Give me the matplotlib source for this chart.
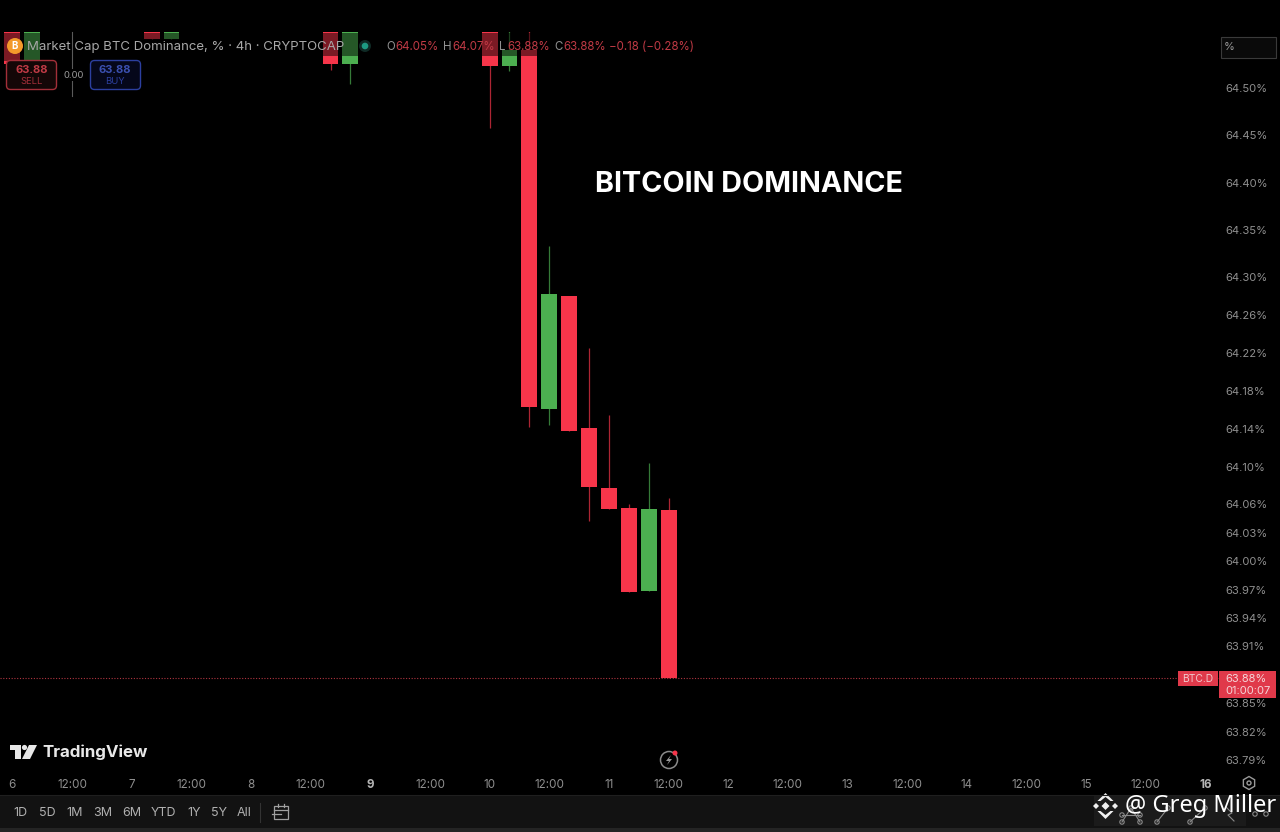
import matplotlib
matplotlib.use("Agg")
import matplotlib.pyplot as plt
from matplotlib.patches import Rectangle, FancyBboxPatch, Circle, Polygon, RegularPolygon

plt.rcParams['font.family'] = ['Inter', 'DejaVu Sans']

# ---------- data ----------
times = [6.0, 6.1667, 7.1667, 7.3333, 8.6667, 8.8333, 10.0, 10.1667, 10.3333, 10.5,
         10.6667, 10.8333, 11.0, 11.1667, 11.3333, 11.5]
opens = [64.60, 64.53, 64.60, 64.552, 64.60, 64.525, 64.60, 64.523, 64.54, 64.161,
         64.280, 64.141, 64.077, 64.056, 63.969, 64.054]
highs = [64.60, 64.60, 64.60, 64.60, 64.60, 64.60, 64.60, 64.60, 64.60, 64.333,
         64.280, 64.225, 64.155, 64.060, 64.104, 64.067]
lows = [64.525, 64.53, 64.552, 64.552, 64.519, 64.504, 64.458, 64.518, 64.142, 64.144,
        64.138, 64.043, 64.055, 63.968, 63.969, 63.877]
closes = [64.525, 64.60, 64.552, 64.60, 64.525, 64.60, 64.523, 64.54, 64.163, 64.282,
          64.138, 64.078, 64.055, 63.968, 64.055, 63.877]
last_price = 63.877
price_ticks = [64.50, 64.45, 64.40, 64.35, 64.30, 64.26, 64.22, 64.18, 64.14, 64.10, 64.06,
               64.03, 64.00, 63.97, 63.94, 63.91, 63.85, 63.82, 63.79]
time_ticks = [6, 6.5, 7, 7.5, 8, 8.5, 9, 9.5, 10, 10.5, 11, 11.5, 12, 12.5, 13, 13.5, 14, 14.5, 15, 15.5, 16]
time_labels = ['6', '12:00', '7', '12:00', '8', '12:00', '9', '12:00', '10', '12:00', '11', '12:00',
               '12', '12:00', '13', '12:00', '14', '12:00', '15', '12:00', '16']
ranges = ['1D', '5D', '1M', '3M', '6M', 'YTD', '1Y', '5Y', 'All']
range_x = [20, 47, 75, 103, 132, 163, 194, 219, 244]

RED = '#F7354A'
GREEN = '#4CAF50'
W, H = 1280, 832

fig = plt.figure(figsize=(12.8, 8.32), dpi=100, facecolor='#000000')

# main chart axes: pixel box 0..1220 x 32..772
L, R, T, B = 0, 1220, 32, 772
ax = fig.add_axes([L / W, 1 - B / H, (R - L) / W, (B - T) / H], facecolor='#000000')
px2day = lambda p: 6 + (p - 12.4) / 119.3
px2val = lambda p: 64.50 - (p - 88) / 946.5
ax.set_xlim(px2day(L), px2day(R))
ax.set_ylim(px2val(B), px2val(T))

width = 0.1333
for t, o, h, l, c in zip(times, opens, highs, lows, closes):
    col = GREEN if c > o else RED
    ax.vlines(t, l, h, color=col, lw=0.9, alpha=0.7, zorder=2)
    ax.bar(t, abs(c - o), bottom=min(o, c), width=width, color=col, linewidth=0, zorder=3)

ax.axhline(last_price, color='#b03540', lw=0.8, ls=(0, (1, 1.5)), zorder=1)

for s in ax.spines.values():
    s.set_visible(False)
ax.yaxis.tick_right()
ax.set_yticks(price_ticks)
ax.set_yticklabels([f'{v:.2f}%' for v in price_ticks], fontsize=8.1, color='#8f8f8f')
ax.tick_params(axis='y', length=0, pad=4)
ax.set_xticks(time_ticks)
ax.set_xticklabels(time_labels, fontsize=8.4, color='#8f8f8f')
ax.tick_params(axis='x', length=0, pad=5)
for lab, txt in zip(ax.get_xticklabels(), time_labels):
    if txt in ('9', '16'):
        lab.set_fontweight('bold')
        lab.set_color('#b5b5b5')

# overlay in pixel coordinates for the interface furniture
ov = fig.add_axes([0, 0, 1, 1], facecolor='none')
ov.set_xlim(0, W)
ov.set_ylim(H, 0)
ov.axis('off')

# legend veil over candles
ov.add_patch(Rectangle((0, 33), 720, 23, fc='#000000', alpha=0.5, lw=0))
ov.add_patch(Rectangle((0, 56), 60, 5, fc='#000000', alpha=0.5, lw=0))

# header
ov.add_patch(Circle((15, 46), 8, fc='#F39A2B', lw=0))
ov.text(15, 46, 'B', color='white', fontsize=7, fontweight='bold', ha='center', va='center')
ov.text(27, 47, 'Market Cap BTC Dominance, % · 4h · CRYPTOCAP', color='#a8a8a8', fontsize=9.5,
        ha='left', va='center')
ov.add_patch(Circle((365, 46), 6, fc='#0f2a25', lw=0))
ov.add_patch(Circle((365, 46), 3.3, fc='#1d9a82', lw=0))
DIMRED = '#C03A45'
for x, s, c in [(386, 'O', '#909090'), (395, '64.05%', DIMRED), (443, 'H', '#909090'), (452, '64.07%', DIMRED),
                (499, 'L', '#909090'), (507, '63.88%', DIMRED), (554, 'C', '#909090'), (563, '63.88%', DIMRED),
                (609, '−0.18 (−0.28%)', DIMRED)]:
    ov.text(x, 47, s, color=c, fontsize=8.3, ha='left', va='center')

# sell / buy widgets
ov.add_patch(FancyBboxPatch((6.5, 60.5), 50, 29, boxstyle='round,pad=0,rounding_size=4', fc='#140707', ec='#A32F39', lw=1))
ov.add_patch(FancyBboxPatch((90.5, 60.5), 50, 29, boxstyle='round,pad=0,rounding_size=4', fc='#05071a', ec='#2C3F9F', lw=1))
ov.text(32, 70, '63.88', color='#C03A45', fontsize=8, fontweight='bold', ha='center', va='center')
ov.text(32, 82, 'SELL', color='#A32F39', fontsize=6.8, ha='center', va='center')
ov.text(115, 70, '63.88', color='#3B50B0', fontsize=8, fontweight='bold', ha='center', va='center')
ov.text(115, 82, 'BUY', color='#2C3F9F', fontsize=6.8, ha='center', va='center')
ov.plot([72, 72], [32, 96], color='#5a5a5a', lw=0.8)
ov.text(74, 75, '0.00', color='#9a9a9a', fontsize=6.8, ha='center', va='center',
        bbox=dict(fc='#000000', ec='none', pad=1))

# percent box
ov.add_patch(Rectangle((1221, 37), 55, 21, fc='#0a0a0a', ec='#3a3a3a', lw=0.8))
ov.text(1229, 47.5, '%', color='#9a9a9a', fontsize=8, ha='center', va='center')

# title
ov.text(749, 184, 'BITCOIN DOMINANCE', color='white', fontsize=20.7, fontweight='bold', ha='center', va='center')

# last price tags
ov.add_patch(Rectangle((1178, 671), 40, 15, fc='#E0394A', lw=0))
ov.text(1198, 678.5, 'BTC.D', color='#f0c8cc', fontsize=7.4, ha='center', va='center')
ov.add_patch(Rectangle((1219, 671), 57, 27, fc='#E0394A', lw=0))
ov.text(1225, 678.5, '63.88%', color='#f5d5d8', fontsize=8, ha='left', va='center')
ov.text(1225, 690.5, '01:00:07', color='#f5d5d8', fontsize=8, ha='left', va='center')

# TradingView logo
ov.add_patch(Polygon([(10, 745), (21, 745), (21, 759), (15, 759), (15, 750), (10, 750)], fc='#e8e8e8', lw=0))
ov.add_patch(Circle((24.5, 747.5), 2.6, fc='#e8e8e8', lw=0))
ov.add_patch(Polygon([(29, 745), (37, 745), (30, 759), (22, 759)], fc='#e8e8e8', lw=0))
ov.text(42, 752.5, 'TradingView', color='#e8e8e8', fontsize=12.2, fontweight='bold', ha='left', va='center')

# bolt icon
ov.add_patch(Circle((669, 760), 8.5, fc='none', ec='#8a8a8a', lw=1.1))
ov.add_patch(Polygon([(671, 755), (666, 761), (669, 761), (667, 765), (672, 759), (669, 759)], fc='#9a9a9a', lw=0))
ov.add_patch(Circle((675, 753), 2.5, fc=RED, lw=0))

# settings icon
ov.add_patch(RegularPolygon((1249, 783), 6, radius=6.5, fc='none', ec='#9a9a9a', lw=1))
ov.add_patch(Circle((1249, 783), 2, fc='none', ec='#9a9a9a', lw=1))

# bottom toolbar
ov.add_patch(Rectangle((0, 795), W, 33, fc='#121212', lw=0))
ov.add_patch(Rectangle((0, 828), W, 4, fc='#242424', lw=0))
ov.plot([0, W], [795, 795], color='#1f1f1f', lw=0.8)
for x, s in zip(range_x, ranges):
    ov.text(x, 813, s, color='#b0b0b0', fontsize=9, ha='center', va='center')
ov.plot([260, 260], [803, 822], color='#333333', lw=0.8)
ov.add_patch(Rectangle((274, 806), 14, 13, fc='none', ec='#a0a0a0', lw=0.9))
ov.plot([274, 288], [810, 810], color='#a0a0a0', lw=0.9)
ov.plot([278, 278], [804, 807], color='#a0a0a0', lw=0.9)
ov.plot([284, 284], [804, 807], color='#a0a0a0', lw=0.9)
ov.plot([272, 281], [814, 814], color='#a0a0a0', lw=0.9)

# drawing tool strip beneath the watermark
ov.add_patch(Rectangle((1094, 796), 152, 30, fc='#1b1b1b', lw=0))
for x, y in [(1122, 822), (1140, 822), (1131, 808), (1122, 815), (1140, 815), (1157, 822), (1190, 822),
             (1168, 808), (1205, 808), (1255, 814), (1266, 814)]:
    ov.add_patch(Circle((x, y), 2.2, fc='none', ec='#8a8a8a', lw=0.8))
ov.plot([1122, 1131, 1140], [822, 808, 822], color='#8a8a8a', lw=0.8)
ov.plot([1122, 1140], [815, 815], color='#8a8a8a', lw=0.8)
ov.plot([1157, 1168], [822, 808], color='#8a8a8a', lw=0.8)
ov.plot([1190, 1205], [822, 808], color='#8a8a8a', lw=0.8)
ov.plot([1226, 1232, 1228, 1234], [807, 813, 815, 821], color='#8a8a8a', lw=0.8)

# watermark: Binance-style mark
cx, cy = 1105.5, 806
WM = '#f0f0f0'
ov.add_patch(Polygon([(cx, cy - 4), (cx + 4, cy), (cx, cy + 4), (cx - 4, cy)], fc=WM, lw=0))
ov.add_patch(Polygon([(cx - 12.5, cy), (cx - 9.5, cy - 3), (cx - 6.5, cy), (cx - 9.5, cy + 3)], fc=WM, lw=0))
ov.add_patch(Polygon([(cx + 12.5, cy), (cx + 9.5, cy - 3), (cx + 6.5, cy), (cx + 9.5, cy + 3)], fc=WM, lw=0))
ov.add_patch(Polygon([(cx, cy - 13), (cx + 8, cy - 5), (cx + 5, cy - 5), (cx, cy - 9), (cx - 5, cy - 5), (cx - 8, cy - 5)], fc=WM, lw=0))
ov.add_patch(Polygon([(cx, cy + 13), (cx + 8, cy + 5), (cx + 5, cy + 5), (cx, cy + 9), (cx - 5, cy + 5), (cx - 8, cy + 5)], fc=WM, lw=0))
ov.text(1125, 806, '@ Greg Miller', color='white', fontsize=17, fontweight='medium', ha='left', va='center',
        family=['Noto Sans', 'DejaVu Sans'])

fig.savefig('out.png', dpi=100, facecolor=fig.get_facecolor())
